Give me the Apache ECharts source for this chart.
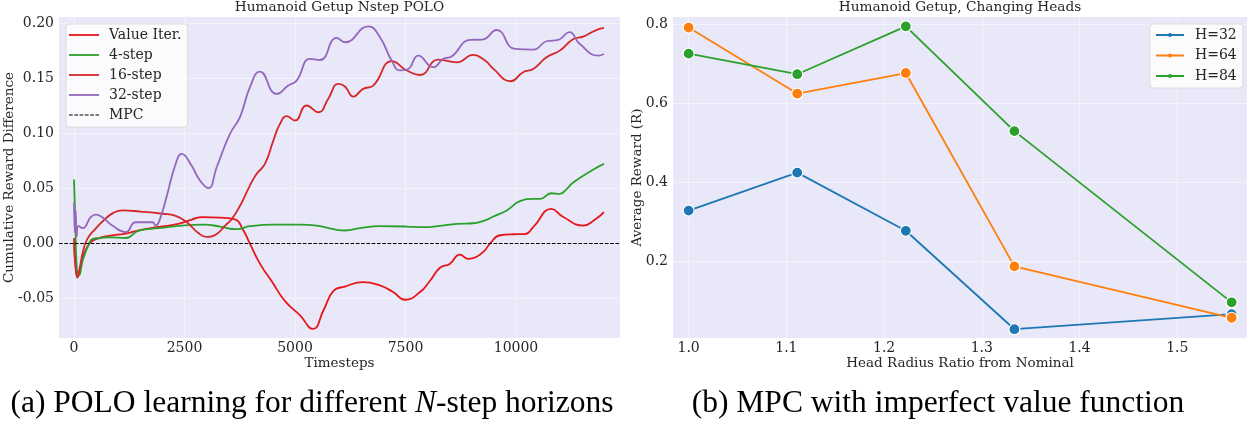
<!DOCTYPE html>
<html><head><meta charset="utf-8">
<script src="https://cdn.jsdelivr.net/npm/echarts@6/dist/echarts.min.js"></script>
<style>html,body{margin:0;padding:0;background:#fff}#c{width:1252px;height:424px}</style>
</head><body><div id="c"></div>
<script>
// ---------- Left chart data (Humanoid Getup Nstep POLO) ----------
const valueIterT = [0, 30, 80, 130, 200, 350, 500, 800, 1170, 1470, 1920, 2380, 2680, 2900, 3300, 3640, 3830, 3980, 4210, 4470, 4770, 5110, 5410, 5640, 5870, 6130, 6540, 6920, 7220, 7490, 7830, 8050, 8280, 8500, 8730, 8920, 9110, 9300, 9410, 9640, 9940, 10200, 10390, 10800, 11070, 11520, 11790, 11990];
const valueIterV = [0.005, -0.015, -0.030, -0.025, -0.012, 0.000, 0.004, 0.007, 0.009, 0.012, 0.015, 0.018, 0.022, 0.024, 0.0235, 0.022, 0.012, 0.000, -0.0185, -0.034, -0.052, -0.065, -0.0775, -0.061, -0.043, -0.039, -0.035, -0.038, -0.044, -0.051, -0.044, -0.034, -0.022, -0.0185, -0.010, -0.014, -0.012, -0.006, 0.000, 0.0075, 0.0084, 0.0085, 0.0148, 0.0314, 0.024, 0.0163, 0.0217, 0.0284];

const step4T = [0, 30, 60, 113, 200, 340, 415, 600, 790, 1170, 1470, 1920, 2500, 2940, 3300, 3680, 3980, 4510, 5110, 5490, 5870, 6130, 6470, 6920, 7530, 7900, 8280, 8660, 9030, 9300, 9490, 9790, 10090, 10390, 10540, 10800, 10990, 11150, 11300, 11750, 11990];
const step4V = [0.058, 0.020, -0.020, -0.029, -0.015, 0.000, 0.004, 0.005, 0.0057, 0.005, 0.0118, 0.0139, 0.0165, 0.0172, 0.0154, 0.013, 0.0157, 0.0172, 0.0172, 0.0163, 0.013, 0.0118, 0.0139, 0.0157, 0.0154, 0.0148, 0.016, 0.0178, 0.0184, 0.021, 0.0245, 0.030, 0.0384, 0.0405, 0.0405, 0.0456, 0.045, 0.0496, 0.0556, 0.0671, 0.0722];

const step16T = [0, 30, 75, 130, 200, 300, 500, 700, 900, 1100, 1500, 2000, 2300, 2560, 2800, 3000, 3230, 3420, 3570, 3760, 3980, 4130, 4320, 4510, 4660, 4810, 5000, 5260, 5530, 5750, 5980, 6130, 6320, 6540, 6770, 7190, 7530, 7830, 8240, 8660, 9030, 9300, 9490, 9880, 10160, 10390, 10690, 10990, 11300, 11520, 11790, 11990];
const step16V = [0.0, -0.02, -0.031, -0.022, -0.008, 0.004, 0.014, 0.022, 0.028, 0.030, 0.029, 0.027, 0.025, 0.019, 0.010, 0.006, 0.0087, 0.0163, 0.0223, 0.0345, 0.0526, 0.0631, 0.0722, 0.0934, 0.1085, 0.1155, 0.1116, 0.1252, 0.1191, 0.1312, 0.1448, 0.1425, 0.1333, 0.1403, 0.1433, 0.1654, 0.157, 0.1529, 0.1669, 0.1644, 0.1711, 0.166, 0.1584, 0.1472, 0.1554, 0.1584, 0.169, 0.175, 0.1856, 0.1877, 0.1932, 0.1956];

const step32T = [0, 20, 40, 60, 100, 200, 377, 490, 641, 867, 1169, 1395, 1772, 1847, 1960, 2111, 2300, 2436, 2639, 2850, 3039, 3228, 3529, 3755, 3981, 4207, 4585, 4848, 5037, 5338, 5565, 5942, 6130, 6658, 6922, 7186, 7374, 7550, 7789, 8128, 8354, 8543, 8958, 9240, 9561, 9975, 10390, 10692, 10955, 11205, 11446, 11860, 11989];
const step32V = [0.037, 0.010, 0.030, 0.006, 0.016, 0.014, 0.0239, 0.0263, 0.0239, 0.0163, 0.0103, 0.0193, 0.0193, 0.0163, 0.0239, 0.045, 0.0722, 0.0813, 0.0722, 0.0571, 0.0502, 0.0692, 0.0994, 0.1146, 0.1418, 0.156, 0.1357, 0.1433, 0.1478, 0.1675, 0.1665, 0.1865, 0.1826, 0.197, 0.1871, 0.166, 0.157, 0.158, 0.1705, 0.16, 0.1675, 0.1696, 0.1847, 0.185, 0.1937, 0.1765, 0.1759, 0.1835, 0.1847, 0.1917, 0.181, 0.1705, 0.172];

const mpcLevel = 0;
const leftXTicks = [0, 2500, 5000, 7500, 10000];
const leftYTicks = [-0.05, 0.00, 0.05, 0.10, 0.15, 0.20];

// ---------- Right chart data (Humanoid Getup, Changing Heads) ----------
const headRatio = [1.0, 1.1111, 1.2222, 1.3333, 1.5556];
const h32 = [0.328, 0.424, 0.277, 0.028, 0.066];
const h64 = [0.791, 0.624, 0.676, 0.187, 0.057];
const h84 = [0.725, 0.673, 0.794, 0.529, 0.096];
const rightXTicks = [1.0, 1.1, 1.2, 1.3, 1.4, 1.5];
const rightYTicks = [0.2, 0.4, 0.6, 0.8];

const zip = (a, b) => a.map((x, i) => [x, b[i]]);

const FONT = 'DejaVu Serif';
const TXT = '#262626';
const BG = '#e8e8f8';
const GRIDLINE = '#f3f3fc';

const solidIcon = 'path://M0,0L30,0L30,1.8L0,1.8Z';
const dashIcon = 'path://M0,0L3.7,0L3.7,1L0,1Z M5.3,0L9,0L9,1L5.3,1Z M10.6,0L14.3,0L14.3,1L10.6,1Z M15.9,0L19.6,0L19.6,1L15.9,1Z M21.2,0L24.9,0L24.9,1L21.2,1Z M26.5,0L30,0L30,1L26.5,1Z';

function lineSeries(name, t, v, color) {
  return {
    type: 'line', name, data: zip(t, v), xAxisIndex: 0, yAxisIndex: 0,
    symbol: 'none', smooth: 0.5,
    lineStyle: { width: 1.8, color }, itemStyle: { color },
    emphasis: { disabled: true }, animation: false
  };
}
function pointSeries(name, v, color) {
  return {
    type: 'line', name, data: zip(headRatio, v), xAxisIndex: 1, yAxisIndex: 1,
    symbol: 'circle', symbolSize: 11,
    lineStyle: { width: 1.8, color },
    itemStyle: { color, borderColor: '#fff', borderWidth: 1.2 },
    emphasis: { disabled: true }, animation: false
  };
}

const axisCommon = {
  axisLine: { show: false },
  axisTick: { show: false },
  splitLine: { show: true, lineStyle: { color: GRIDLINE, width: 1 } }
};
const TICKFS = 14;

const option = {
  animation: false,
  backgroundColor: '#fff',
  grid: [
    { left: 59, top: 17, width: 561, height: 321, show: true, backgroundColor: BG, borderWidth: 0 },
    { left: 673, top: 17, width: 574, height: 321, show: true, backgroundColor: BG, borderWidth: 0 }
  ],
  xAxis: [
    Object.assign({}, axisCommon, {
      type: 'value', gridIndex: 0, min: -339, max: 12353,
      axisTick: { show: false, customValues: leftXTicks },
      axisLabel: { customValues: leftXTicks, color: TXT, fontFamily: FONT, fontSize: TICKFS, margin: 3, formatter: v => String(Math.round(v)) }
    }),
    Object.assign({}, axisCommon, {
      type: 'value', gridIndex: 1, min: 0.984, max: 1.5713,
      axisTick: { show: false, customValues: rightXTicks },
      axisLabel: { customValues: rightXTicks, color: TXT, fontFamily: FONT, fontSize: TICKFS, margin: 3, formatter: v => v.toFixed(1) }
    })
  ],
  yAxis: [
    Object.assign({}, axisCommon, {
      type: 'value', gridIndex: 0, min: -0.0857, max: 0.2055,
      axisTick: { show: false, customValues: leftYTicks },
      axisLabel: { customValues: leftYTicks, color: TXT, fontFamily: FONT, fontSize: TICKFS, margin: 5, formatter: v => v.toFixed(2) }
    }),
    Object.assign({}, axisCommon, {
      type: 'value', gridIndex: 1, min: 0.0058, max: 0.8177,
      axisTick: { show: false, customValues: rightYTicks },
      axisLabel: { customValues: rightYTicks, color: TXT, fontFamily: FONT, fontSize: TICKFS, margin: 5, formatter: v => v.toFixed(1) }
    })
  ],
  legend: [
    {
      orient: 'vertical', left: 66, top: 24,
      itemWidth: 30, itemHeight: 2, itemGap: 6,
      padding: [4, 6, 5, 3],
      backgroundColor: 'rgba(255,255,255,0.8)', borderColor: '#dcdcdc', borderWidth: 1, borderRadius: 3,
      textStyle: { fontFamily: FONT, fontSize: 14, color: TXT, lineHeight: 14, padding: [0, 0, 0, 5] },
      selectedMode: false,
      data: [
        { name: 'Value Iter.', icon: solidIcon },
        { name: '4-step', icon: solidIcon },
        { name: '16-step', icon: solidIcon },
        { name: '32-step', icon: solidIcon },
        { name: 'MPC', icon: dashIcon }
      ]
    },
    {
      orient: 'vertical', left: 1150, top: 24,
      itemWidth: 28, itemHeight: 5, itemGap: 6.5,
      padding: [4, 6, 5, 5],
      backgroundColor: 'rgba(255,255,255,0.8)', borderColor: '#dcdcdc', borderWidth: 1, borderRadius: 3,
      textStyle: { fontFamily: FONT, fontSize: 14, color: TXT, lineHeight: 14, padding: [0, 0, 0, 6] },
      itemStyle: { borderWidth: 0 },
      selectedMode: false,
      data: ['H=32', 'H=64', 'H=84']
    }
  ],
  series: [
    lineSeries('Value Iter.', valueIterT, valueIterV, '#e8161b'),
    lineSeries('4-step', step4T, step4V, '#2ca02c'),
    lineSeries('16-step', step16T, step16V, '#d62728'),
    lineSeries('32-step', step32T, step32V, '#9467bd'),
    {
      type: 'line', name: 'MPC', data: [], xAxisIndex: 0, yAxisIndex: 0, symbol: 'none',
      lineStyle: { color: '#000', width: 1, type: 'dashed' }, itemStyle: { color: '#000' },
      markLine: {
        silent: true, symbol: 'none', label: { show: false },
        lineStyle: { color: '#000', width: 1, type: [3.7, 1.6] },
        data: [{ yAxis: mpcLevel }], animation: false
      }
    },
    pointSeries('H=32', h32, '#1f77b4'),
    pointSeries('H=64', h64, '#ff7f0e'),
    pointSeries('H=84', h84, '#2ca02c')
  ],
  graphic: [
    { type: 'text', x: 339.5, y: 7.5, style: { text: 'Humanoid Getup Nstep POLO', fontFamily: FONT, fontSize: 13.7, fill: TXT, align: 'center', verticalAlign: 'middle' } },
    { type: 'text', x: 960, y: 7.5, style: { text: 'Humanoid Getup, Changing Heads', fontFamily: FONT, fontSize: 13.7, fill: TXT, align: 'center', verticalAlign: 'middle' } },
    { type: 'text', x: 339.5, y: 363, style: { text: 'Timesteps', fontFamily: FONT, fontSize: 13.5, fill: TXT, align: 'center', verticalAlign: 'middle' } },
    { type: 'text', x: 960, y: 363, style: { text: 'Head Radius Ratio from Nominal', fontFamily: FONT, fontSize: 13.5, fill: TXT, align: 'center', verticalAlign: 'middle' } },
    { type: 'text', x: 9.5, y: 177.5, rotation: Math.PI / 2, style: { text: 'Cumulative Reward Difference', fontFamily: FONT, fontSize: 13.5, fill: TXT, align: 'center', verticalAlign: 'middle' } },
    { type: 'text', x: 637.5, y: 177.5, rotation: Math.PI / 2, style: { text: 'Average Reward (R)', fontFamily: FONT, fontSize: 13.5, fill: TXT, align: 'center', verticalAlign: 'middle' } },
    { type: 'text', x: 312, y: 404, style: {
        text: '{n|(a) POLO learning for different }{i|N}{n|-step horizons}',
        align: 'center', verticalAlign: 'middle', fill: '#000',
        rich: {
          n: { fontFamily: 'Liberation Serif', fontSize: 31.5, fill: '#000' },
          i: { fontFamily: 'Liberation Serif', fontSize: 31.5, fontStyle: 'italic', fill: '#000' }
        } } },
    { type: 'text', x: 938, y: 404, style: {
        text: '(b) MPC with imperfect value function', fontFamily: 'Liberation Serif', fontSize: 31.5,
        fill: '#000', align: 'center', verticalAlign: 'middle' } }
  ]
};

const chart = echarts.init(document.getElementById('c'), null, { renderer: 'canvas' });
chart.setOption(option);
</script>
</body></html>
